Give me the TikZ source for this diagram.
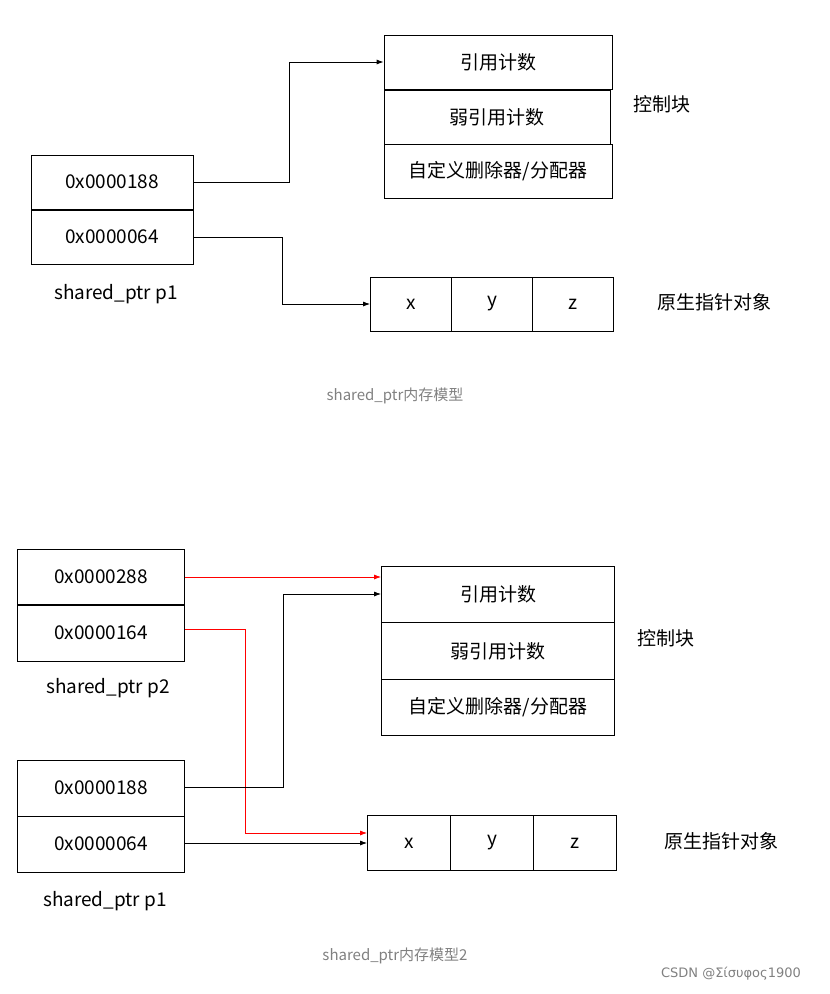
\documentclass[tikz,border=0pt]{standalone}
\usepackage{fontspec}
\setmainfont{Noto Sans CJK SC}
\newfontfamily\wmfont{DejaVu Sans}
\usetikzlibrary{arrows.meta}
\tikzset{
  cell/.style={draw, thick, minimum height=54, inner sep=0pt, font=\fontsize{19}{22}\selectfont},
  lbl/.style={font=\fontsize{19}{22}\selectfont},
  caption/.style={text=gray, font=\fontsize{15}{18}\selectfont},
  ptr/.style={thick, -{Latex[length=7,width=5]}},
}
\begin{document}
\begin{tikzpicture}[x=1pt, y=-1pt]
      \useasboundingbox (0,0) rectangle (830,994);
      % top diagram
      \node[cell, minimum width=162] (a1) at (112,182) {0x0000188};
      \node[cell, minimum width=162] (a2) at (112,237) {0x0000064};
      \node[lbl] (pa) at (116,294) {shared\_ptr p1};
      \node[cell, minimum width=228] (c1) at (498,62) {引用计数};
      \node[cell, minimum width=226] (c2) at (497,117) {弱引用计数};
      \node[cell, minimum width=228] (c3) at (498,171) {自定义删除器/分配器};
      \node[lbl] (ca) at (662,104) {控制块};
      \foreach \n/\x/\t in {x/411/x, y/492/y, z/573/z} {
        \node[cell, minimum width=81] (o\n) at (\x,304) {\t};
      }
      \node[lbl] (oa) at (714,302) {原生指针对象};
      \draw[ptr] (a1.east) -- (289,182) |- (c1.west);
      \draw[ptr] (a2.east) -- (282,237) |- (ox.west);
      \node[caption] (capa) at (395,396) {shared\_ptr内存模型};
      % bottom diagram
      \node[cell, minimum width=167, minimum height=56] (b1) at (101,577) {0x0000288};
      \node[cell, minimum width=167, minimum height=57] (b2) at (101,633) {0x0000164};
      \node[lbl] (pb) at (108,688) {shared\_ptr p2};
      \node[cell, minimum width=167, minimum height=56] (d1) at (101,788) {0x0000188};
      \node[cell, minimum width=167, minimum height=56] (d2) at (101,844) {0x0000064};
      \node[lbl] (pd) at (105,901) {shared\_ptr p1};
      \node[cell, minimum width=233, minimum height=56] (e1) at (498,594) {引用计数};
      \node[cell, minimum width=233, minimum height=57] (e2) at (498,651) {弱引用计数};
      \node[cell, minimum width=233, minimum height=56] (e3) at (498,707) {自定义删除器/分配器};
      \node[lbl] (eb) at (666,638) {控制块};
      \foreach \n/\x/\t in {x/409/x, y/492/y, z/575/z} {
        \node[cell, minimum width=83, minimum height=55] (q\n) at (\x,843) {\t};
      }
      \node[lbl] (qb) at (721,841) {原生指针对象};
      \draw[ptr, red] (b1.east) -- (e1.west |- b1.east);
      \draw[ptr, red] (b2.east |- 0,629) -- (245,629) |- (qx.west |- 0,833);
      \draw[ptr] (d1.east |- 0,787) -- (283,787) |- (e1.west);
      \draw[ptr] (d2.east |- qx.west) -- (qx.west);
      \node[caption] (capb) at (395,956) {shared\_ptr内存模型2};
      \node[caption, font=\wmfont\fontsize{13}{15}\selectfont] (wm) at (731,974) {CSDN @Σίσυφος1900};
    \end{tikzpicture}
\end{document}
